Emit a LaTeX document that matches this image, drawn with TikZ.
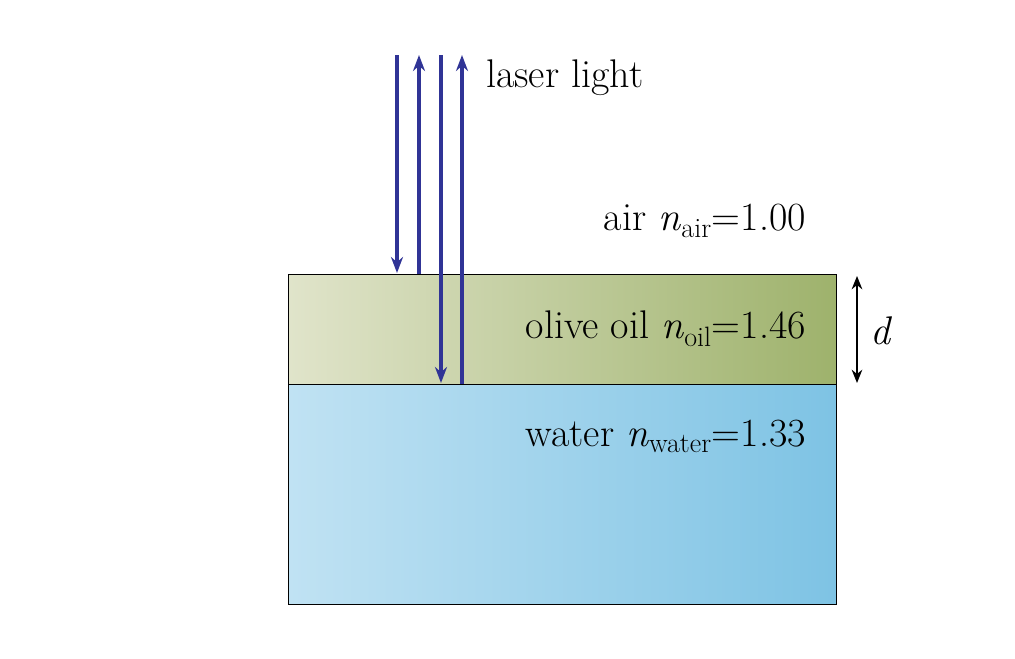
\documentclass[tikz,border=0pt]{standalone}
\usetikzlibrary{arrows.meta}
\begin{document}
\begin{tikzpicture}[x=0.75pt,y=-0.75pt,
  ray/.style={draw={rgb,255:red,48;green,52;blue,150},line width=2.6pt,-{Stealth[length=12pt,width=9pt]}},
  lbl/.style={font=\fontsize{30}{34}\selectfont,anchor=east,inner sep=0pt}]
\useasboundingbox (0,0) rectangle (1015,658);
\definecolor{oilL}{RGB}{224,228,202}\definecolor{oilR}{RGB}{158,178,108}
\definecolor{watL}{RGB}{192,226,243}\definecolor{watR}{RGB}{126,195,228}
\node[draw=black,line width=0.9pt,left color=oilL,right color=oilR,minimum width=548*0.75pt,minimum height=110*0.75pt,anchor=north west,inner sep=0pt] (oil) at (288,274) {};
\node[draw=black,line width=0.9pt,left color=watL,right color=watR,minimum width=548*0.75pt,minimum height=220*0.75pt,anchor=north west,inner sep=0pt] (water) at (288,384) {};
\coordinate (t1) at (397,55); \coordinate (b1) at (397,273);
\coordinate (t2) at (419,55); \coordinate (b2) at (419,274);
\coordinate (t3) at (441,55); \coordinate (b3) at (441,383);
\coordinate (t4) at (462,55); \coordinate (b4) at (462,384);
\draw[ray] (t1) -- (b1);
\draw[ray] (b2) -- (t2);
\draw[ray] (t3) -- (b3);
\draw[ray] (b4) -- (t4);
\node[lbl,anchor=west] (laser) at (486,78) {laser light};
\node[lbl] (air) at (806,221) {air \textit{n}\textsubscript{air}=1.00};
\node[lbl] (oill) at (806,329) {olive oil \textit{n}\textsubscript{oil}=1.46};
\node[lbl] (watl) at (806,436) {water \textit{n}\textsubscript{water}=1.33};
\coordinate (d1) at (857,276); \coordinate (d2) at (857,383);
\draw[line width=1.3pt,{Stealth[length=10pt,width=8pt]}-{Stealth[length=10pt,width=8pt]}] (d1) -- (d2);
\node[lbl,anchor=west] (d) at (870,331) {\textit{d}};
\end{tikzpicture}
\end{document}
